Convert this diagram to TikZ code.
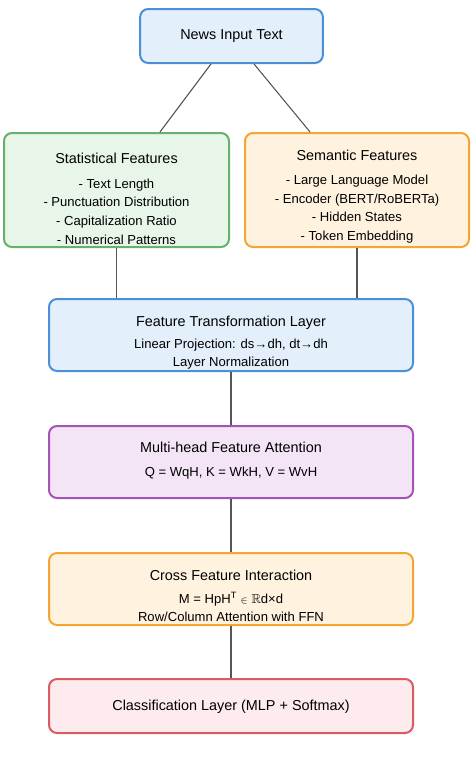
\documentclass[tikz,border=0pt]{standalone}
\usepackage{amsmath}
\usepackage{amssymb}
\usepackage{fontspec}
\setmainfont{Liberation Sans}
\usepackage{tikz}

\definecolor{bluedraw}{HTML}{4A90D9}
\definecolor{bluefill}{HTML}{E3F0FC}
\definecolor{greendraw}{HTML}{66B26A}
\definecolor{greenfill}{HTML}{E8F5E9}
\definecolor{orangedraw}{HTML}{F7A531}
\definecolor{orangefill}{HTML}{FFF3E0}
\definecolor{purpledraw}{HTML}{A553B5}
\definecolor{purplefill}{HTML}{F3E5F5}
\definecolor{reddraw}{HTML}{DB5B63}
\definecolor{redfill}{HTML}{FDEBEE}
\definecolor{linkgray}{HTML}{555555}

\newcommand{\titlesize}{\fontsize{10.8}{13.9}\selectfont}
\newcommand{\itemsize}{\fontsize{9.8}{13.9}\selectfont}

\begin{document}
\begin{tikzpicture}[x=0.75pt,y=0.75pt,yscale=-1,
    box/.style={rounded corners=6pt,line width=1.5pt,inner sep=0pt},
    bluebox/.style={box,draw=bluedraw,fill=bluefill},
    greenbox/.style={box,draw=greendraw,fill=greenfill},
    orangebox/.style={box,draw=orangedraw,fill=orangefill},
    purplebox/.style={box,draw=purpledraw,fill=purplefill},
    redbox/.style={box,draw=reddraw,fill=redfill},
    txt/.style={align=center,inner sep=0pt,font=\itemsize},
    link/.style={draw=linkgray,line width=0.8pt}]
        \useasboundingbox (0,0) rectangle (474,760);

        %Boxes
        \node [bluebox,minimum width=137pt,minimum height=40.5pt] (input) at (231.5,36) {};
        \node [greenbox,minimum width=168.75pt,minimum height=85.5pt] (stat) at (116.5,190) {};
        \node [orangebox,minimum width=168pt,minimum height=85.5pt] (sem) at (357,190) {};
        \node [bluebox,minimum width=273pt,minimum height=54pt] (ftl) at (231,335) {};
        \node [purplebox,minimum width=273pt,minimum height=54pt] (mha) at (231,462) {};
        \node [orangebox,minimum width=273pt,minimum height=54pt] (cfi) at (231,589) {};
        \node [redbox,minimum width=273pt,minimum height=40.5pt] (cls) at (231,706) {};

        %Links
        \draw [link] ([xshift=-15.4pt]input.south) -- ([xshift=32.6pt]stat.north) ;
        \draw [link] ([xshift=16.9pt]input.south) -- ([xshift=-35.2pt]sem.north) ;
        \draw [link] (stat.south) -- (stat.south |- ftl.north) ;
        \draw [link] (sem.south) -- (sem.south |- ftl.north) ;
        \draw [link] (ftl.south) -- (mha.north) ;
        \draw [link] (mha.south) -- (cfi.north) ;
        \draw [link] (cfi.south) -- (cls.north) ;

        % Text Node
        \node [txt,font=\titlesize] (input-txt) at (231.5,36) {News Input Text};
        % Text Node
        \node [txt] (stat-txt) at (116.5,198.5) {{\titlesize Statistical Features}\\[5pt]
            - Text Length\\ - Punctuation Distribution\\ - Capitalization Ratio\\ - Numerical Patterns};
        % Text Node
        \node [txt] (sem-txt) at (357,196.5) {{\titlesize Semantic Features}\\[4.3pt]
            - Large Language Model\\ - Encoder (BERT/RoBERTa)\\ - Hidden States\\ - Token Embedding};
        % Text Node
        \node [txt] (ftl-txt) at (231,342.5) {{\titlesize Feature Transformation Layer}\\[2.6pt]
            Linear Projection: ds→dh, dt→dh\\[-0.4pt] Layer Normalization};
        % Text Node
        \node [txt] (mha-txt) at (231,460.5) {{\titlesize Multi-head Feature Attention}\\[4.1pt]
            Q = WqH, K = WkH, V = WvH};
        % Text Node
        \node [txt] (cfi-txt) at (231,596) {{\titlesize Cross Feature Interaction}\\[3.4pt]
            M = HpH\textsuperscript{T} {\scriptsize$\in$} $\mathbb{R}$d×d\\[-0.4pt] Row/Column Attention with FFN};
        % Text Node
        \node [txt,font=\titlesize] (cls-txt) at (231,707) {Classification Layer (MLP + Softmax)};

\end{tikzpicture}
\end{document}
